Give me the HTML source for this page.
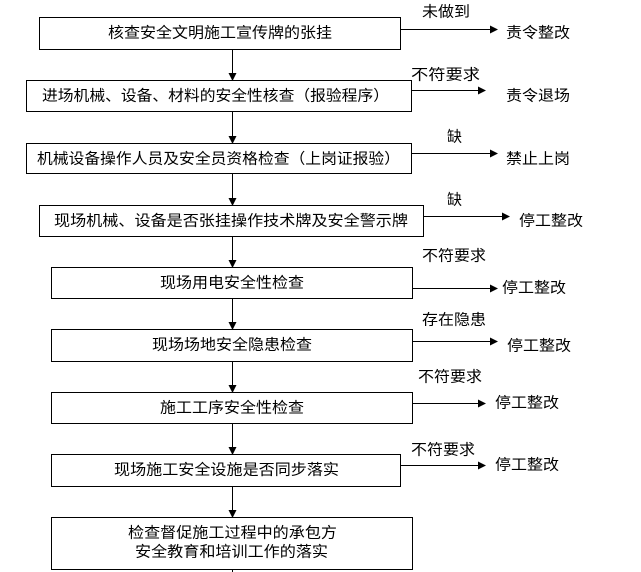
<!DOCTYPE html>
<html><head><meta charset="utf-8"><style>body{margin:0;background:#fff}svg{display:block}text{font-family:"Liberation Sans","Noto Sans CJK SC",sans-serif;font-size:15px;fill:#000;dominant-baseline:central}</style></head><body>
<svg width="641" height="572" viewBox="0 0 641 572">
<defs><marker id="a" markerWidth="8" markerHeight="8" refX="7" refY="4" orient="auto" markerUnits="userSpaceOnUse"><path d="M0,0 L8,4 L0,8 z" fill="#000"/></marker></defs>
<g fill="none" stroke="#000" stroke-width="1">
<rect x="39.5" y="17.5" width="361" height="32"/>
<rect x="26.5" y="80.5" width="385" height="31"/>
<rect x="26.5" y="143.5" width="385" height="30"/>
<rect x="39.5" y="205.5" width="384" height="31"/>
<rect x="51.5" y="267.5" width="361" height="31"/>
<rect x="51.5" y="329.5" width="361" height="32"/>
<rect x="51.5" y="392.5" width="361" height="31"/>
<rect x="51.5" y="454.5" width="349" height="32"/>
<rect x="51.5" y="517.5" width="361" height="52"/>
<line x1="232.5" y1="50" x2="232.5" y2="80" marker-end="url(#a)"/>
<line x1="232.5" y1="112" x2="232.5" y2="143" marker-end="url(#a)"/>
<line x1="232.5" y1="174" x2="232.5" y2="205" marker-end="url(#a)"/>
<line x1="232.5" y1="237" x2="232.5" y2="267" marker-end="url(#a)"/>
<line x1="232.5" y1="299" x2="232.5" y2="329" marker-end="url(#a)"/>
<line x1="232.5" y1="362" x2="232.5" y2="392" marker-end="url(#a)"/>
<line x1="232.5" y1="424" x2="232.5" y2="454" marker-end="url(#a)"/>
<line x1="232.5" y1="487" x2="232.5" y2="517" marker-end="url(#a)"/>
<line x1="232.5" y1="570" x2="232.5" y2="572"/>
<line x1="401" y1="29.5" x2="497" y2="29.5" marker-end="url(#a)"/>
<line x1="412" y1="90.5" x2="485" y2="90.5" marker-end="url(#a)"/>
<line x1="412" y1="153.5" x2="497" y2="153.5" marker-end="url(#a)"/>
<line x1="424" y1="216.5" x2="509" y2="216.5" marker-end="url(#a)"/>
<line x1="413" y1="288.5" x2="497" y2="288.5" marker-end="url(#a)"/>
<line x1="413" y1="341.5" x2="497" y2="341.5" marker-end="url(#a)"/>
<line x1="413" y1="403.5" x2="485" y2="403.5" marker-end="url(#a)"/>
<line x1="401" y1="465.5" x2="485" y2="465.5" marker-end="url(#a)"/>
</g>
<text x="108" y="33" textLength="224" lengthAdjust="spacingAndGlyphs">核查安全文明施工宣传牌的张挂</text>
<text x="42" y="96" textLength="347" lengthAdjust="spacingAndGlyphs">进场机械、设备、材料的安全性核查（报验程序）</text>
<text x="37" y="159" textLength="363" lengthAdjust="spacingAndGlyphs">机械设备操作人员及安全员资格检查（上岗证报验）</text>
<text x="54" y="221" textLength="354" lengthAdjust="spacingAndGlyphs">现场机械、设备是否张挂操作技术牌及安全警示牌</text>
<text x="160" y="283" textLength="144" lengthAdjust="spacingAndGlyphs">现场用电安全性检查</text>
<text x="152" y="345" textLength="160" lengthAdjust="spacingAndGlyphs">现场场地安全隐患检查</text>
<text x="160" y="408" textLength="144" lengthAdjust="spacingAndGlyphs">施工工序安全性检查</text>
<text x="114" y="470" textLength="225" lengthAdjust="spacingAndGlyphs">现场施工安全设施是否同步落实</text>
<text x="128" y="533" textLength="209" lengthAdjust="spacingAndGlyphs">检查督促施工过程中的承包方</text>
<text x="135" y="552" textLength="193" lengthAdjust="spacingAndGlyphs">安全教育和培训工作的落实</text>
<text x="422" y="12" textLength="48" lengthAdjust="spacingAndGlyphs">未做到</text>
<text x="411" y="75" textLength="69" lengthAdjust="spacingAndGlyphs">不符要求</text>
<text x="447" y="137">缺</text>
<text x="447" y="200">缺</text>
<text x="422" y="256" textLength="64" lengthAdjust="spacingAndGlyphs">不符要求</text>
<text x="422" y="320" textLength="64" lengthAdjust="spacingAndGlyphs">存在隐患</text>
<text x="418" y="377" textLength="64" lengthAdjust="spacingAndGlyphs">不符要求</text>
<text x="411" y="450" textLength="64" lengthAdjust="spacingAndGlyphs">不符要求</text>
<text x="506" y="33" textLength="64" lengthAdjust="spacingAndGlyphs">责令整改</text>
<text x="506" y="96" textLength="64" lengthAdjust="spacingAndGlyphs">责令退场</text>
<text x="506" y="159" textLength="64" lengthAdjust="spacingAndGlyphs">禁止上岗</text>
<text x="519" y="221" textLength="64" lengthAdjust="spacingAndGlyphs">停工整改</text>
<text x="502" y="288" textLength="64" lengthAdjust="spacingAndGlyphs">停工整改</text>
<text x="507" y="346" textLength="64" lengthAdjust="spacingAndGlyphs">停工整改</text>
<text x="495" y="403" textLength="64" lengthAdjust="spacingAndGlyphs">停工整改</text>
<text x="495" y="465" textLength="64" lengthAdjust="spacingAndGlyphs">停工整改</text>
</svg>
</body></html>
